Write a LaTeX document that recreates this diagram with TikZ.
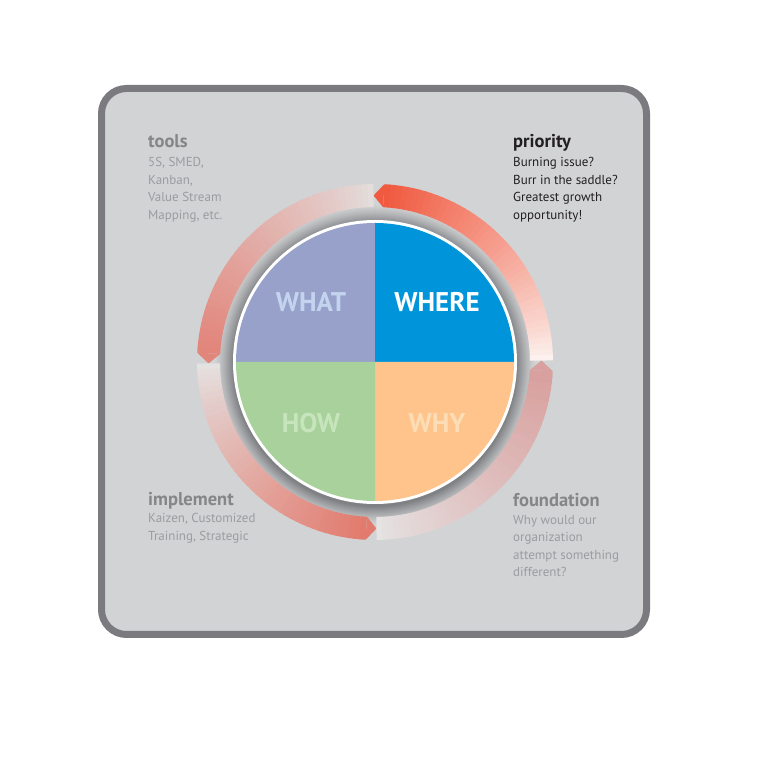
\documentclass[tikz,border=0pt]{standalone}
\usepackage{fontspec}
\setmainfont{PT Sans}
\definecolor{bggray}{HTML}{D2D3D5}
\definecolor{framegray}{HTML}{7B7B7F}
\definecolor{shadowgray}{HTML}{808184}
\definecolor{whatc}{HTML}{97A1CA}
\definecolor{whattext}{HTML}{C4D3EE}
\definecolor{wherec}{HTML}{0094DA}
\definecolor{howc}{HTML}{A8D19B}
\definecolor{howtext}{HTML}{C7E5BC}
\definecolor{whyc}{HTML}{FEC48B}
\definecolor{whytext}{HTML}{FDDDB6}
\definecolor{headgray}{HTML}{858688}
\definecolor{bodygray}{HTML}{9B9C9F}
\definecolor{darktext}{HTML}{231F20}
\definecolor{aAhead}{HTML}{F05A40}
\definecolor{aAtail}{HTML}{FCF1EE}
\definecolor{aBhead}{HTML}{E2857B}
\definecolor{aBtail}{HTML}{E3DDDC}
\definecolor{aChead}{HTML}{E27B6E}
\definecolor{aCtail}{HTML}{E4E1E1}
\definecolor{aDhead}{HTML}{D8A09E}
\definecolor{aDtail}{HTML}{E6E3E3}
\newcommand\ringarrow[3]{%
  \foreach \k in {0,...,43}{%
    \pgfmathsetmacro\aa{#1+0.5+\k*86.5/44}%
    \pgfmathsetmacro\ab{min(\aa+86.5/44+0.4,#1+87)}%
    \pgfmathtruncatemacro\p{100*(\k/43)^0.85}%
    \fill[#2!\p!#3] (\aa:155) arc[start angle=\aa,end angle=\ab,radius=155] -- (\ab:178) arc[start angle=\ab,end angle=\aa,radius=178] -- cycle;
  }%
  \pgfmathsetmacro\ae{#1+87}%
  \pgfmathsetmacro\at{#1+90.5}%
  \fill[#2] (\ae:155) -- (\at:166.5) -- (\ae:178) -- cycle;
}
\tikzset{
  hdr/.style={anchor=base west, inner sep=0pt, font=\bfseries\fontsize{18.5}{21}\selectfont},
  bdy/.style={anchor=base west, inner sep=0pt, font=\fontsize{13}{15}\selectfont},
  quad/.style={inner sep=0pt, font=\bfseries\fontsize{27}{30}\selectfont}
}
\begin{document}
\begin{tikzpicture}[x=1pt,y=1pt]
\useasboundingbox (0,0) rectangle (768,768);
\fill[white] (0,0) rectangle (768,768);
% frame
\draw[line width=7pt, rounded corners=25pt, draw=framegray, fill=bggray] (101.5,679.5) rectangle (646.5,133.5);
% shadow ring
\begin{scope}[shift={(375,403)}]
  \foreach \i in {0,...,19}{%
    \pgfmathsetmacro\r{161-\i}%
    \pgfmathtruncatemacro\p{100*(\i/19)^1.3}%
    \fill[shadowgray!\p!bggray] (0,0) circle (\r);
  }
\end{scope}
\begin{scope}[shift={(375,406)}]
  \ringarrow{0}{aAhead}{aAtail}
  \ringarrow{90}{aBhead}{aBtail}
  \ringarrow{180}{aChead}{aCtail}
  \ringarrow{270}{aDhead}{aDtail}
  \fill[white] (0,0) circle (142);
  \fill[whatc] (0,0) -- (180:139) arc[start angle=180,end angle=90,radius=139] -- cycle;
  \fill[wherec] (0,0) -- (90:139) arc[start angle=90,end angle=0,radius=139] -- cycle;
  \fill[whyc] (0,0) -- (0:139) arc[start angle=0,end angle=-90,radius=139] -- cycle;
  \fill[howc] (0,0) -- (-90:139) arc[start angle=-90,end angle=-180,radius=139] -- cycle;
  \node[quad, text=whattext] (what) at (-64,60) {WHAT};
  \node[quad, text=white] (where) at (62,60) {WHERE};
  \node[quad, text=howtext] (how) at (-64,-61) {HOW};
  \node[quad, text=whytext] (why) at (62,-61) {WHY};
\end{scope}
% texts
\node[hdr, text=headgray] (tools) at (148,620) {tools};
\node[bdy, text=bodygray] (t1) at (148,601) {5S, SMED,};
\node[bdy, text=bodygray] (t2) at (148,583.5) {Kanban,};
\node[bdy, text=bodygray] (t3) at (148,566) {Value Stream};
\node[bdy, text=bodygray] (t4) at (148,548.5) {Mapping, etc.};
\node[hdr, text=darktext] (priority) at (513,620) {priority};
\node[bdy, text=darktext] (p1) at (513,601) {Burning issue?};
\node[bdy, text=darktext] (p2) at (513,583.5) {Burr in the saddle?};
\node[bdy, text=darktext] (p3) at (513,566) {Greatest growth};
\node[bdy, text=darktext] (p4) at (513,548.5) {opportunity!};
\node[hdr, text=headgray] (implement) at (148,262) {implement};
\node[bdy, text=bodygray] (i1) at (148,245) {Kaizen, Customized};
\node[bdy, text=bodygray] (i2) at (148,227.5) {Training, Strategic};
\node[hdr, text=headgray] (foundation) at (513,261) {foundation};
\node[bdy, text=bodygray] (f1) at (513,243.5) {Why would our};
\node[bdy, text=bodygray] (f2) at (513,226) {organization};
\node[bdy, text=bodygray] (f3) at (513,208.5) {attempt something};
\node[bdy, text=bodygray] (f4) at (513,191) {different?};
\end{tikzpicture}
\end{document}
